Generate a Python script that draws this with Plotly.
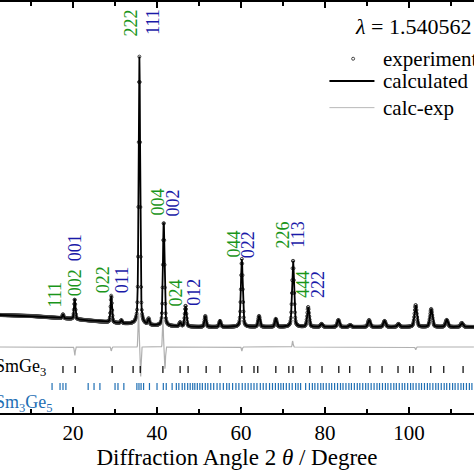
import numpy as np
import plotly.graph_objects as go

# Data (intensities in arbitrary units)
# ===================================================
peak_pos = [17.6, 20.4, 29.1, 31.5, 35.8, 38.0, 41.6, 45.5, 46.8, 51.5, 55.0, 60.2, 64.3, 68.3,
            72.4, 76.0, 79.2, 83.2, 86.0, 90.5, 94.2, 97.5, 101.6, 105.3, 109.0, 112.6]
peak_h = [4, 20, 27, 3, 268, 6, 105, 4, 21, 11, 6, 68, 11, 8,
          67, 20, 3, 7, 2, 7, 6, 3, 22, 18, 7, 4]
bg_x = [2.6, 10, 20, 30, 40, 50, 80, 115.5]
bg_y = [98, 97, 94, 90, 87, 86, 86, 86]
diff_base = 66
diff_pos = [20.4, 29.1, 35.6, 36.1, 41.4, 41.9, 60.2, 72.3, 101.6]
diff_amp = [-9, -4, 35, -30, 28, -22, -4, 6, -3]

smge3_ticks = [17.6, 20.5, 29.3, 34.3, 36.0, 41.4, 45.5, 47.4, 51.7, 55.0, 60.2, 63.1, 64.0,
               68.3, 71.4, 72.4, 76.4, 79.3, 83.3, 85.9, 90.7, 93.6, 97.4, 100.2, 101.0,
               105.2, 108.3, 112.9]
sm3ge5_ticks = [15.0, 16.9, 17.6, 18.3, 23.6, 25.0, 26.4, 30.0, 30.7, 32.1, 35.2, 35.7, 36.2,
                36.8, 38.2, 40.0, 41.5, 42.2, 43.6, 44.6, 45.2, 46.0, 46.6, 47.3, 47.9, 48.5,
                49.0, 49.6, 50.2, 50.8, 51.5, 52.1, 52.8, 53.5, 54.3, 55.0, 55.8, 56.6, 57.2,
                58.0, 58.8, 59.5, 60.3, 61.0, 61.7, 62.4, 63.1, 63.8, 64.6, 65.3, 66.0, 66.8,
                67.5, 68.2, 68.9, 69.5, 70.1, 70.8, 71.5, 72.2, 73.0, 73.6, 74.2, 75.4, 76.3,
                77.0, 77.6, 78.3, 79.0, 79.6, 80.3, 81.0, 81.6, 82.3, 83.0, 83.7, 84.3, 85.0,
                85.7, 86.3, 87.0, 87.7, 88.3, 89.0, 89.7, 90.3, 91.0, 91.7, 92.4, 93.0, 93.7,
                94.4, 95.0, 95.7, 96.4, 97.0, 97.7, 98.4, 99.0, 99.7, 100.4, 101.0, 101.7,
                102.4, 103.0, 103.7, 104.4, 105.0, 105.7, 106.4, 107.0, 107.7, 108.4, 109.0,
                109.7, 110.4, 111.0, 111.7, 112.4, 113.0, 113.7, 114.4, 115.0]

# hkl labels: (x, y_bottom, text, colour)
labels = [(15.6, 103, "111", "green"), (20.4, 115, "002", "green"), (20.4, 150, "001", "blue"),
          (27.1, 118, "022", "green"), (31.7, 118, "011", "blue"),
          (33.8, 375, "222", "green"), (39.0, 376, "111", "blue"),
          (40.0, 195, "004", "green"), (43.8, 195, "002", "blue"),
          (44.5, 105, "024", "green"), (48.6, 105, "012", "blue"),
          (58.1, 153, "044", "green"), (61.6, 153, "022", "blue"),
          (70.0, 163, "226", "green"), (73.5, 163, "113", "blue"),
          (74.6, 113, "444", "green"), (78.2, 113, "222", "blue")]

# Profile
# ===================================================
x = np.arange(2.6, 115.5, 0.08)
bg = np.interp(x, bg_x, bg_y)
calc = bg.copy()
for p, h in zip(peak_pos, peak_h):
    w = 0.18 + 0.002 * p
    calc += h * (0.7 * np.exp(-((x - p) / w) ** 2) + 0.3 / (1 + ((x - p) / w) ** 2))
diff = np.full_like(x, diff_base, dtype=float)
for p, a in zip(diff_pos, diff_amp):
    diff += a * np.exp(-((x - p) / 0.15) ** 2)

fig = go.Figure()
fig.add_trace(go.Scatter(x=x, y=calc, mode="markers",
                         marker=dict(symbol="circle-open", size=3, color="#444", line=dict(width=1))))
fig.add_trace(go.Scatter(x=x, y=calc, mode="lines", line=dict(color="black", width=1.8)))
fig.add_trace(go.Scatter(x=x, y=diff, mode="lines", line=dict(color="#b0b0b0", width=1.2)))

def tick_trace(pos, y0, y1, color):
    xs, ys = [], []
    for p in pos:
        xs += [p, p, None]
        ys += [y0, y1, None]
    return go.Scatter(x=xs, y=ys, mode="lines", line=dict(color=color, width=1.2))

fig.add_trace(tick_trace(smge3_ticks, 40, 47, "black"))
fig.add_trace(tick_trace(sm3ge5_ticks, 23, 30, "#1f6fb4"))

serif = "Liberation Serif"
ann = []
for lx, ly, t, c in labels:
    ann.append(dict(x=lx, y=ly, text=t, textangle=-90, showarrow=False, xanchor="center",
                    yanchor="bottom", font=dict(family=serif, size=18,
                                                color="#1a951a" if c == "green" else "#1a1aa8")))
ann.append(dict(x=-0.015, y=46, xref="paper", text="SmGe<sub>3</sub>", showarrow=False,
                xanchor="left", font=dict(family=serif, size=18, color="black")))
ann.append(dict(x=-0.015, y=10, xref="paper", text="Sm<sub>3</sub>Ge<sub>5</sub>", showarrow=False,
                xanchor="left", font=dict(family=serif, size=18, color="#1f6fb4")))
# legend block
ann.append(dict(x=0.745, y=0.94, xref="paper", yref="paper", text="<i>λ</i> = 1.540562",
                showarrow=False, xanchor="left", yanchor="middle",
                font=dict(family=serif, size=22, color="black")))
for yy, t in [(0.862, "experiment"), (0.808, "calculated"), (0.743, "calc-exp")]:
    ann.append(dict(x=0.803, y=yy, xref="paper", yref="paper", text=t, showarrow=False,
                    xanchor="left", yanchor="middle", font=dict(family=serif, size=21, color="black")))
fig.add_shape(type="line", xref="paper", yref="paper", x0=0.695, x1=0.79, y0=0.808, y1=0.808,
              line=dict(color="black", width=2))
fig.add_shape(type="line", xref="paper", yref="paper", x0=0.695, x1=0.79, y0=0.743, y1=0.743,
              line=dict(color="#b8b8b8", width=1))
fig.add_trace(go.Scatter(x=[0.745], y=[0.862], xaxis="x2", yaxis="y2", mode="markers",
                         marker=dict(symbol="circle-open", size=3, color="#444")))

fig.update_layout(
    width=474, height=474,
    margin=dict(l=0, r=0, t=2, b=61, autoexpand=False),
    showlegend=False,
    plot_bgcolor="white", paper_bgcolor="white",
    annotations=ann,
    xaxis=dict(range=[2.6, 115.5], tickvals=[20, 40, 60, 80, 100], ticks="inside", ticklen=6,
               minor=dict(dtick=10, tick0=0, ticks="inside", ticklen=4, tickcolor="black"),
               showgrid=False, zeroline=False, showline=True, linecolor="black", linewidth=2,
               mirror="ticks", tickcolor="black", tickwidth=1.5, automargin=False,
               tickfont=dict(family=serif, size=21, color="black"),
               title=dict(text="Diffraction Angle 2 <i>θ</i> / Degree", standoff=2,
                          font=dict(family=serif, size=23, color="black"))),
    yaxis=dict(range=[0, 411], showticklabels=False, showgrid=False, zeroline=False,
               showline=False, automargin=False),
    xaxis2=dict(range=[0, 1], overlaying="x", visible=False),
    yaxis2=dict(range=[0, 1], overlaying="y", visible=False),
)

fig.write_html("out.html", config={"displayModeBar": False},
               post_script="document.body.style.margin='0';")
